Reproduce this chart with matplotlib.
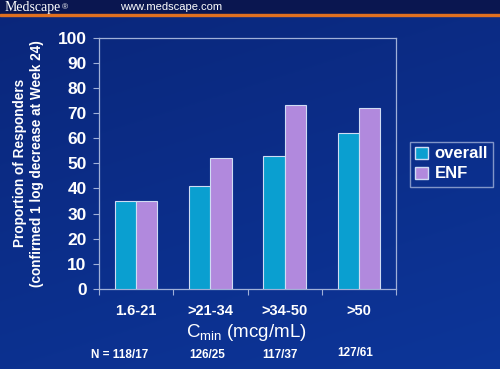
import numpy as np
import matplotlib.pyplot as plt
from matplotlib.patches import Patch

categories = ['1.6-21', '>21-34', '>34-50', '>50']
overall = [35, 41, 53, 62]
enf = [35, 52, 73, 72]
n_labels = ['N = 118/17', '126/25', '117/37', '127/61']

plt.rcParams['font.family'] = ['Liberation Sans', 'DejaVu Sans']

fig = plt.figure(figsize=(5.0, 3.69), dpi=100)
W, H = 500, 369

# background gradient
bg = fig.add_axes([0, 0, 1, 1])
yy = np.linspace(0, 1, 200)[:, None]
xx = np.linspace(0, 1, 300)[None, :]
top = np.array([0.04, 0.15, 0.48])
bot = np.array([0.05, 0.21, 0.60])
t = (0.7 * yy + 0.3 * xx)
img = top[None, None, :] * (1 - t[..., None]) + bot[None, None, :] * t[..., None]
bg.imshow(img, aspect='auto', extent=[0, 1, 0, 1], origin='upper')
bg.set_xlim(0, 1)
bg.set_ylim(0, 1)
bg.axis('off')

# header band
bg.add_patch(plt.Rectangle((0, 1 - 14 / H), 1, 14 / H, color='#0a1650', zorder=2))
bg.add_patch(plt.Rectangle((0, 1 - 16 / H), 1, 2 / H, color='#e07020', zorder=3))
fig.text(5 / W, 1 - 7 / H, 'Medscape', family='Liberation Serif', color='white',
         fontsize=10, va='center', ha='left')
fig.text(62 / W, 1 - 8 / H, '®', color='white', fontsize=6, va='center', ha='left')
fig.text(120 / W, 1 - 7 / H, 'www.medscape.com', color='white', fontsize=8,
         va='center', ha='left')

# main axes: x 99..396, y 37.5..289
ax = fig.add_axes([99 / W, 1 - 289 / H, 297 / W, 251.5 / H])
ax.set_facecolor('none')
x = np.arange(len(categories))
w = 0.285
edge = '#d0dcf4'
ax.bar(x - w / 2, overall, w, color='#0a9fd0', edgecolor=edge, linewidth=0.8, zorder=3)
ax.bar(x + w / 2, enf, w, color='#b189dd', edgecolor=edge, linewidth=0.8, zorder=3)

ax.set_xlim(-0.5, 3.5)
ax.set_ylim(0, 100)
ax.set_yticks(range(0, 101, 10))
ax.set_xticks(np.arange(-0.5, 4, 1))
ax.set_xticklabels([])
ax.set_xticks(x, minor=True)
ax.set_xticklabels(categories, minor=True, color='white', fontsize=10.5, fontweight='bold')
ax.tick_params(axis='x', which='minor', length=0, pad=11)
ax.tick_params(axis='x', which='major', length=4, color='#a0b0d8', direction='out')
ax.tick_params(axis='y', length=4, color='#a0b0d8', labelcolor='white',
               labelsize=12.5, pad=5)
for lbl in ax.get_yticklabels():
    lbl.set_fontweight('bold')
for s in ax.spines.values():
    s.set_color('#a0b0d8')
    s.set_linewidth(0.9)

ax.set_ylabel('Proportion of Responders\n(confirmed 1 log decrease at Week 24)',
              color='white', fontsize=9.8, fontweight='bold', labelpad=10, linespacing=1.25)

fig.text(246 / W, 1 - 337 / H, r'C$_{\mathregular{min}}$ (mcg/mL)', color='white',
         fontsize=13.5, ha='center', va='baseline')

n_pos = [120, 207, 280, 355]
n_y = [355, 355, 355, 353]
for px, py, lab in zip(n_pos, n_y, n_labels):
    fig.text(px / W, 1 - py / H, lab, color='white', fontsize=8.5,
             fontweight='bold', ha='center', va='center')

handles = [Patch(facecolor='#0a9fd0', edgecolor=edge), Patch(facecolor='#b189dd', edgecolor=edge)]
leg = fig.legend(handles, ['overall', 'ENF'], loc='center left',
                 bbox_to_anchor=(402 / W, 1 - 164 / H), frameon=True,
                 fontsize=12, handlelength=0.75, handleheight=0.75, handletextpad=0.4,
                 borderpad=0.3, labelspacing=0.3, fancybox=False)
leg.get_frame().set_facecolor('none')
leg.get_frame().set_edgecolor('#a0b0d8')
for txt in leg.get_texts():
    txt.set_color('white')
    txt.set_fontweight('bold')

fig.savefig('out.png', dpi=100)
